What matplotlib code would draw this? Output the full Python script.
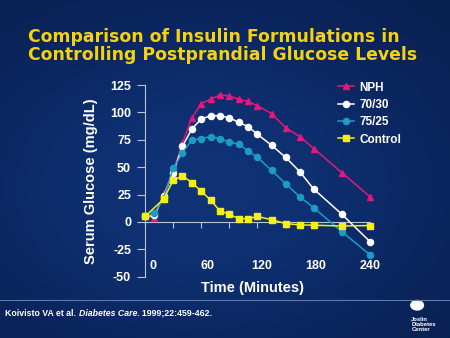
import matplotlib
matplotlib.use("Agg")
import matplotlib.pyplot as plt
from matplotlib.patches import Circle
import numpy as np

# data (time in minutes, serum glucose change in mg/dL)
TIME = [0, 10, 20, 30, 40, 50, 60, 70, 80, 90, 100, 110, 120, 135, 150, 165, 180, 210, 240]
NPH = [5, 4, 26, 45, 72, 95, 108, 112, 116, 115, 112, 110, 106, 99, 86, 78, 67, 45, 23]
MIX_70_30 = [5, 6, 24, 45, 69, 85, 94, 97, 97, 95, 91, 87, 80, 70, 59, 46, 30, 7, -18]
MIX_75_25 = [5, 8, 22, 49, 63, 75, 76, 78, 76, 73, 71, 65, 59, 47, 35, 23, 13, -9, -30]

TIME_CTRL = [0, 20, 30, 40, 50, 60, 70, 80, 90, 100, 110, 120, 135, 150, 165, 180, 210, 240]
CONTROL = [5, 21, 38, 42, 36, 28, 20, 10, 7, 3, 3, 5, 2, -1.5, -2.7, -3, -3.7, -3.3]

NAMES = ["NPH", "70/30", "75/25", "Control"]
COLORS = ["#e2197c", "white", "#1c9cc4", "#f7ee14"]
MARKERS = ["^", "o", "o", "s"]

Y_TICKS = [125, 100, 75, 50, 25, 0, -25, -50]
X_LABELS = [0, 60, 120, 180, 240]

TITLE = "Comparison of Insulin Formulations in\nControlling Postprandial Glucose Levels"
Y_LABEL = "Serum Glucose (mg/dL)"
X_LABEL = "Time (Minutes)"

ARIAL = "Liberation Sans"


def main():
    fig = plt.figure(figsize=(4.5, 3.38), dpi=100)

    # dark blue slide background
    bg = fig.add_axes([0, 0, 1, 1], zorder=-5)
    yy, xx = np.mgrid[0:1:200j, 0:1:260j]
    glow = np.exp(-((xx - 0.45) ** 2 / 0.35 + (yy - 0.55) ** 2 / 0.3))
    edge = np.array([0.03, 0.11, 0.29])
    mid = np.array([0.06, 0.20, 0.47])
    img = edge[None, None, :] + (mid - edge)[None, None, :] * glow[:, :, None]
    bg.imshow(img, aspect="auto", extent=[0, 1, 0, 1], origin="upper")
    bg.set_xlim(0, 1)
    bg.set_ylim(0, 1)
    bg.axis("off")

    fig.text(0.062, 0.916, TITLE, color="#f6d20e", fontsize=12.4,
             fontweight="bold", va="top", ha="left", linespacing=1.0)

    ax = fig.add_axes([0.3222, 0.1814, 0.5, 0.567])
    ax.patch.set_alpha(0)

    series = [(TIME, NPH), (TIME, MIX_70_30), (TIME, MIX_75_25), (TIME_CTRL, CONTROL)]
    sizes = [4.6, 4.4, 4.4, 4.4]
    for (t, v), name, col, mk, ms in zip(series, NAMES, COLORS, MARKERS, sizes):
        ax.plot(t, v, marker=mk, color=col, markersize=ms, linewidth=1.1,
                label=name, clip_on=False, zorder=3 if name != "Control" else 4)

    ax.set_xlim(0, 240)
    ax.set_ylim(-50, 125)
    for s in ["top", "right"]:
        ax.spines[s].set_visible(False)
    ax.spines["left"].set_color("#b8c4d8")
    ax.spines["bottom"].set_color("#b8c4d8")
    ax.spines["bottom"].set_position(("data", 0))
    ax.spines["left"].set_linewidth(0.8)
    ax.spines["bottom"].set_linewidth(0.8)

    ax.set_yticks(Y_TICKS)
    ax.set_yticklabels([str(v) for v in Y_TICKS], color="white",
                       fontsize=9, fontweight="bold", family=ARIAL)
    ax.tick_params(axis="y", colors="#b8c4d8", length=6, width=0.8, pad=4,
                   labelcolor="white")
    ax.set_xticks(np.arange(0, 241, 30))
    ax.set_xticklabels([])
    ax.tick_params(axis="x", colors="#b8c4d8", length=4, width=0.8)

    for v in X_LABELS:
        ax.text(v + 8.5 * (1 - v / 240), -40, str(v), color="white", fontsize=9,
                fontweight="bold", ha="center", va="center", family=ARIAL)

    ax.text(0.48, -0.02, X_LABEL, transform=ax.transAxes, color="white",
            fontsize=10.5, fontweight="bold", ha="center", va="top", family=ARIAL)
    ax.set_ylabel(Y_LABEL, color="white", fontsize=10.5, fontweight="bold",
                  labelpad=9, family=ARIAL)

    fig.legend(loc="upper left", bbox_to_anchor=(0.728, 0.79),
               frameon=False, labelcolor="white", handlelength=1.3,
               handletextpad=0.5, labelspacing=0.45,
               prop={"weight": "bold", "size": 8.5, "family": ARIAL})

    # footer
    fig.add_artist(plt.Line2D([0, 1], [0.1124, 0.1124], color="#5b79ad",
                              linewidth=0.8, transform=fig.transFigure))
    fig.canvas.draw()
    r = fig.canvas.get_renderer()
    x = 0.012
    for part, st in [("Koivisto VA et al. ", "normal"), ("Diabetes Care", "italic"),
                     (". 1999;22:459-462.", "normal")]:
        t = fig.text(x, 0.073, part, color="white", fontsize=6.3, fontweight="bold",
                     style=st, va="center", family=ARIAL)
        bb = t.get_window_extent(r)
        x += bb.width / fig.bbox.width

    # logo
    fig.add_artist(Circle((0.927, 0.097), 0.014, transform=fig.transFigure,
                          facecolor="white", edgecolor="white"))
    fig.text(0.914, 0.062, "Joslin\nDiabetes\nCenter", color="white",
             fontsize=4.2, fontweight="bold", va="top", ha="left",
             linespacing=1.0, family=ARIAL)

    fig.savefig("out.png", dpi=100)
    plt.close(fig)


main()
